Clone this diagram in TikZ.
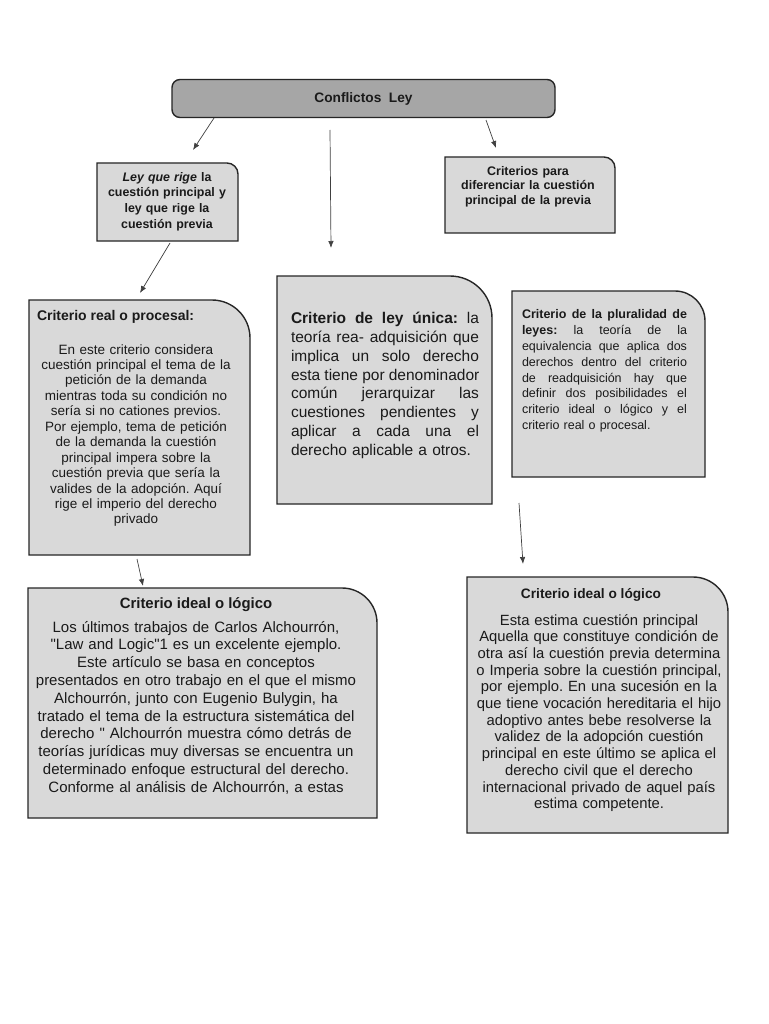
\documentclass[tikz,border=0pt]{standalone}
\usepackage{fontspec}
\setmainfont{Liberation Sans}
\usetikzlibrary{arrows.meta}
\definecolor{boxfill}{HTML}{D9D9D9}
\definecolor{topfill}{HTML}{A6A6A6}
\definecolor{edge}{HTML}{262626}
\definecolor{ink}{HTML}{1A1A1A}
\frenchspacing
\newcommand{\onecorner}[2]{\filldraw[boxline] (#1.south west) -- (#1.north west) -- ([xshift=-#2pt]#1.north east) arc[start angle=90,end angle=0,radius=#2pt] -- (#1.south east) -- cycle;}
\newcommand{\jl}[2]{\leavevmode\hbox to #1{\spaceskip=0.27em plus 1fil\relax\xspaceskip=0.27em plus 1fil\relax #2}\\}
\newcommand{\fs}[2]{\fontsize{#1pt}{#2pt}\selectfont}
\begin{document}
\begin{tikzpicture}[x=1pt,y=1pt,
 frame/.style={draw=none, fill=none, inner sep=0pt, outer sep=0pt, anchor=north west},
 boxline/.style={draw=edge, fill=boxfill, line width=1.4pt},
 topbox/.style={draw=edge, fill=topfill, line width=1.4pt, rounded corners=8pt, minimum width=383pt, minimum height=38pt, inner sep=0pt, text=ink},
 txt/.style={inner sep=0pt, outer sep=0pt, text=ink, anchor=base},
 conn/.style={draw=black!75, line width=0.7pt, -{Latex[length=7pt,width=5.5pt]}}]
\fill[white] (0,0) rectangle (768,-1024);
\useasboundingbox (0,0) rectangle (768,-1024);

% top box
\node[topbox, font={\fs{13.7}{16}\bfseries}] (top) at (363.5,-98.5) {Conflictos\ \ Ley};

% frames
\node[frame, minimum width=141pt, minimum height=78pt] (b1) at (97,-163) {};
\node[frame, minimum width=170pt, minimum height=76pt] (b2) at (445,-157) {};
\node[frame, minimum width=221pt, minimum height=255pt] (b3) at (29,-300) {};
\node[frame, minimum width=215pt, minimum height=228pt] (b4) at (277,-276) {};
\node[frame, minimum width=193pt, minimum height=186pt] (b5) at (512,-291) {};
\node[frame, minimum width=349pt, minimum height=230pt] (b6) at (28,-588) {};
\node[frame, minimum width=261pt, minimum height=256pt] (b7) at (467,-577) {};

\onecorner{b1}{11}
\onecorner{b2}{11}
\onecorner{b3}{38}
\onecorner{b4}{42}
\onecorner{b5}{30}
\onecorner{b6}{35}
\onecorner{b7}{35}

% texts
\node[txt, text width=140pt, align=center, font={\fs{12.4}{15.8}\bfseries}] (t1) at (167,-181.2)
 {\textit{Ley que rige} la\\ cuestión principal y\\ ley que rige la\\ cuestión previa};
\node[txt, text width=165pt, align=center, font={\fs{12.45}{14.5}\bfseries}] (t2) at (528,-175.5)
 {Criterios para\\ diferenciar la cuestión\\ principal de la previa};

\node[txt, anchor=base west, font={\fs{14}{16}\bfseries}] (t3h) at (37,-320) {Criterio real o procesal:};
\node[txt, text width=215pt, align=center, font={\fs{13.5}{15.45}}] (t3) at (136,-354)
 {En este criterio considera\\ cuestión principal el tema de la\\ petición de la demanda\\ mientras toda su condición no\\ sería si no cationes previos.\\ Por ejemplo, tema de petición\\ de la demanda la cuestión\\ principal impera sobre la\\ cuestión previa que sería la\\ valides de la adopción. Aquí\\ rige el imperio del derecho\\ privado};

\node[txt, anchor=base west, text width=188pt, align=left, font={\fs{15.5}{18.9}}] (t4) at (291,-323.3)
 {\jl{188pt}{\textbf{Criterio de ley única:} la}
  \jl{188pt}{teoría rea- adquisición que}
  \jl{188pt}{implica un solo derecho}
  \jl{188pt}{esta tiene por denominador}
  \jl{188pt}{común jerarquizar las}
  \jl{188pt}{cuestiones pendientes y}
  \jl{188pt}{aplicar a cada una el}
  derecho aplicable a otros.};

\node[txt, anchor=base west, text width=165pt, align=left, font={\fs{12.5}{15.8}}] (t5) at (522,-318.8)
 {\jl{165pt}{\textbf{Criterio de la pluralidad de}}
  \jl{165pt}{\textbf{leyes:} la teoría de la}
  \jl{165pt}{equivalencia que aplica dos}
  \jl{165pt}{derechos dentro del criterio}
  \jl{165pt}{de readquisición hay que}
  \jl{165pt}{definir dos posibilidades el}
  \jl{165pt}{criterio ideal o lógico y el}
  criterio real o procesal.};

\node[txt, font={\fs{14.9}{17}\bfseries}] (t6h) at (196,-608.4) {Criterio ideal o lógico};
\node[txt, text width=340pt, align=center, font={\fs{15}{17.8}}] (t6) at (196,-632)
 {Los últimos trabajos de Carlos Alchourrón,\\ \textquotedbl Law and Logic\textquotedbl 1 es un excelente ejemplo.\\ Este artículo se basa en conceptos\\ presentados en otro trabajo en el que el mismo\\ Alchourrón, junto con Eugenio Bulygin, ha\\ tratado el tema de la estructura sistemática del\\ derecho \textquotedbl{} Alchourrón muestra cómo detrás de\\ teorías jurídicas muy diversas se encuentra un\\ determinado enfoque estructural del derecho.\\ Conforme al análisis de Alchourrón, a estas};

\node[txt, font={\fs{13.7}{16}\bfseries}] (t7h) at (591,-598) {Criterio ideal o lógico};
\node[txt, text width=255pt, align=center, font={\fs{14.8}{16.67}}] (t7) at (599,-625.3)
 {Esta estima cuestión principal\\ Aquella que constituye condición de\\ otra así la cuestión previa determina\\ o Imperia sobre la cuestión principal,\\ por ejemplo. En una sucesión en la\\ que tiene vocación hereditaria el hijo\\ adoptivo antes bebe resolverse la\\ validez de la adopción cuestión\\ principal en este último se aplica el\\ derecho civil que el derecho\\ internacional privado de aquel país\\ estima competente.};

% connectors
\coordinate (a1s) at (214,-118); \coordinate (a1e) at (193,-150);
\coordinate (a2s) at (330,-130); \coordinate (a2e) at (331,-248);
\coordinate (a3s) at (486,-120); \coordinate (a3e) at (496,-148);
\coordinate (a4s) at (170,-243); \coordinate (a4e) at (140,-293);
\coordinate (a5s) at (519,-503); \coordinate (a5e) at (523,-564);
\coordinate (a6s) at (137,-559); \coordinate (a6e) at (143,-586);
\draw[conn] (a1s) -- (a1e);
\draw[conn] (a2s) -- (a2e);
\draw[conn] (a3s) -- (a3e);
\draw[conn] (a4s) -- (a4e);
\draw[conn] (a5s) -- (a5e);
\draw[conn] (a6s) -- (a6e);
\end{tikzpicture}
\end{document}
